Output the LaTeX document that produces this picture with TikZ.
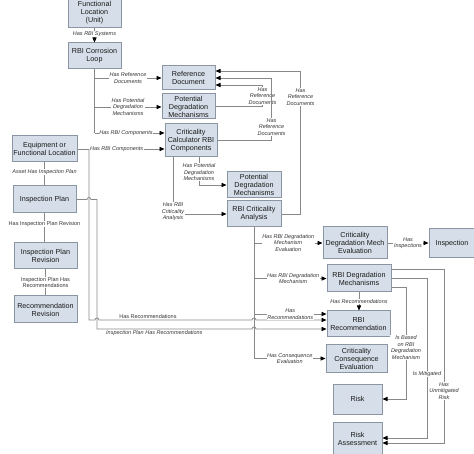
\documentclass[tikz,border=0pt]{standalone}
\usepackage{fontspec}
\setmainfont{Liberation Sans}
\usetikzlibrary{arrows.meta}
\definecolor{boxfill}{HTML}{D6DFE9}
\definecolor{boxline}{HTML}{8A96A3}
\definecolor{wirecol}{HTML}{888888}
\definecolor{lbltext}{HTML}{333333}
\tikzset{
  entity/.style={draw=boxline, fill=boxfill, line width=1pt, align=center, inner sep=1pt,
    font=\fontsize{7.2}{8}\selectfont, text=black!90},
  rel/.style={font=\fontsize{5.5}{6.4}\selectfont\itshape, text=lbltext, align=center,
    fill=white, inner sep=0.6pt},
  relup/.style={rel, font=\fontsize{5.5}{6.4}\selectfont},
  wire/.style={draw=wirecol, line width=0.75pt},
}
\begin{document}
\begin{tikzpicture}[x=1pt, y=-1pt, >={Triangle[length=5pt,width=4.2pt,color=black]}]
\useasboundingbox (0,0) rectangle (474,454);

% entities
\node[entity, minimum width=53pt, minimum height=29pt] (funloc) at (94.5,13) {Functional\\Location\\(Unit)};
\node[entity, minimum width=53pt, minimum height=26pt] (loop) at (94.5,56) {RBI Corrosion\\Loop};
\node[entity, minimum width=53pt, minimum height=24pt] (refdoc) at (188.5,78) {Reference\\Document};
\node[entity, minimum width=53pt, minimum height=25pt] (pdmA) at (188.5,106.5) {Potential\\Degradation\\Mechanisms};
\node[entity, minimum width=52pt, minimum height=33pt] (calc) at (191,140.5) {Criticality\\Calculator RBI\\Components};
\node[entity, minimum width=65pt, minimum height=26pt] (equip) at (44.5,149) {Equipment or\\Functional Location};
\node[entity, minimum width=63pt, minimum height=27pt] (insplan) at (44.5,199.5) {Inspection Plan};
\node[entity, minimum width=63pt, minimum height=26pt] (insprev) at (45.5,256) {Inspection Plan\\Revision};
\node[entity, minimum width=63pt, minimum height=27pt] (recrev) at (45.5,309.5) {Recommendation\\Revision};
\node[entity, minimum width=54pt, minimum height=26pt] (pdmB) at (254,185) {Potential\\Degradation\\Mechanisms};
\node[entity, minimum width=54pt, minimum height=26pt] (rca) at (254,214) {RBI Criticality\\Analysis};
\node[entity, minimum width=64pt, minimum height=32pt] (cdme) at (355,243) {Criticality\\Degradation Mech\\Evaluation};
\node[entity, minimum width=46pt, minimum height=29pt] (insp) at (452,243.5) {Inspection};
\node[entity, minimum width=64pt, minimum height=27pt] (rdm) at (359,278.5) {RBI Degradation\\Mechanisms};
\node[entity, minimum width=63pt, minimum height=26pt] (rbirec) at (358.5,324) {RBI\\Recommendation};
\node[entity, minimum width=61pt, minimum height=27pt] (cce) at (356.5,358.5) {Criticality\\Consequence\\Evaluation};
\node[entity, minimum width=49pt, minimum height=30pt] (risk) at (357.5,399) {Risk};
\node[entity, minimum width=49pt, minimum height=34pt] (riskass) at (357.5,439) {Risk\\Assessment};

% functional location and corrosion loop
\draw[wire,->] (funloc) -- (loop) node[rel, pos=0.42] {Has RBI Systems};
\draw[wire] (loop.south) -- (loop.south |- 0,133);
\draw[wire,->] (loop.south |- 0,78) -- (refdoc.west |- 0,78) node[rel, midway] {Has Reference\\Documents};
\draw[wire,->] (loop.south |- 0,107) -- (pdmA.west |- 0,107) node[rel, midway] {Has Potential\\Degradation\\Mechanisms};
\draw[wire,->] (loop.south |- 0,133) -- (calc.west |- 0,133) node[rel, pos=0.45] {Has RBI Components};

% reference documents
\draw[wire,->] (pdmA.east) -- ++(47,0) |- (refdoc.east |- 0,85) node[rel, pos=0.25] {Has\\Reference\\Documents};
\draw[wire,->] (calc.east) -- ++(54,0) |- (refdoc.east |- 0,78) node[rel, pos=0.11] {Has\\Reference\\Documents};
\draw[wire,->] (rca.east) -- ++(19,0) |- (refdoc.east |- 0,71) node[rel, pos=0.41] {Has\\Reference\\Documents};

% criticality calculator
\draw[wire,->] (calc.south -| 199,0) |- (pdmB.west) node[rel, pos=0.27] {Has Potential\\Degradation\\Mechanisms};
\draw[wire,->] (calc.south -| 173,0) |- (rca.west) node[rel, pos=0.48] {Has RBI\\Criticality\\Analysis};

% equipment and inspection plan
\coordinate (eqdrop) at (89,149);
\draw[wire,->] (equip.east) -- (calc.west |- equip.east) node[rel, pos=0.45] {Has RBI Components};
\draw[wire,->] (eqdrop) -- (89,320) -- (95,320) arc[start angle=180, end angle=0, radius=2pt]
  -- node[relup, fill=none, above=0.5pt, pos=0.32] {Has Recommendations} (252,320)
  arc[start angle=180, end angle=0, radius=2pt] -- (rbirec.west |- 0,320);
\draw[wire,->] (insplan.east) -- (87,199.5) arc[start angle=180, end angle=0, radius=2pt] -- (97,199.5) -- (97,329)
  -- node[rel, fill=none, below=0.5pt, pos=0.37] {Inspection Plan Has Recommendations} (252,329)
  arc[start angle=180, end angle=0, radius=2pt] -- (rbirec.west |- 0,329);
\draw[wire] (equip.south) -- (equip.south |- insplan.north) node[rel, pos=0.42] {Asset Has Inspection Plan};
\draw[wire] (insplan.south) -- (insplan.south |- insprev.north) node[relup, pos=0.37] {Has Inspection Plan Revision};
\draw[wire] (insprev.south) -- (insprev.south |- recrev.north) node[relup, midway] {Inspection Plan Has\\Recommendations};

% criticality analysis
\draw[wire,->] (rca.south) |- (cdme.west) node[rel, pos=0.75] {Has RBI Degradation\\Mechanism\\Evaluation};
\draw[wire,->] (rca.south) |- (rdm.west) node[rel, pos=0.77] {Has RBI Degradation\\Mechanism};
\draw[wire,->] (rca.south) |- (rbirec.west |- 0,314) node[rel, pos=0.75] {Has\\Recommendations};
\draw[wire,->] (rca.south) |- (cce.west) node[rel, pos=0.75] {Has Consequence\\Evaluation};
\draw[wire,->] (cdme.east) -- (insp.west |- cdme.east) node[rel, midway] {Has\\Inspections};

% degradation mechanisms
\draw[wire,->] (rdm.south) -- (rdm.south |- rbirec.north) node[rel, midway] {Has Recommendations};
\draw[wire,->] (rdm.east |- 0,269) -- (444,269) |- (riskass.east |- 0,443) node[rel, pos=0.35] {Has\\Unmitigated\\Risk};
\draw[wire,->] (rdm.east |- 0,278) -- (427,278) |- (riskass.east |- 0,438) node[rel, pos=0.30] {Is Mitigated};
\draw[wire,->] (rdm.east |- 0,287) -- (406,287) |- (risk.east |- 0,399) node[rel, pos=0.27] {Is Based\\on RBI\\Degradation\\Mechanism};
\end{tikzpicture}
\end{document}
